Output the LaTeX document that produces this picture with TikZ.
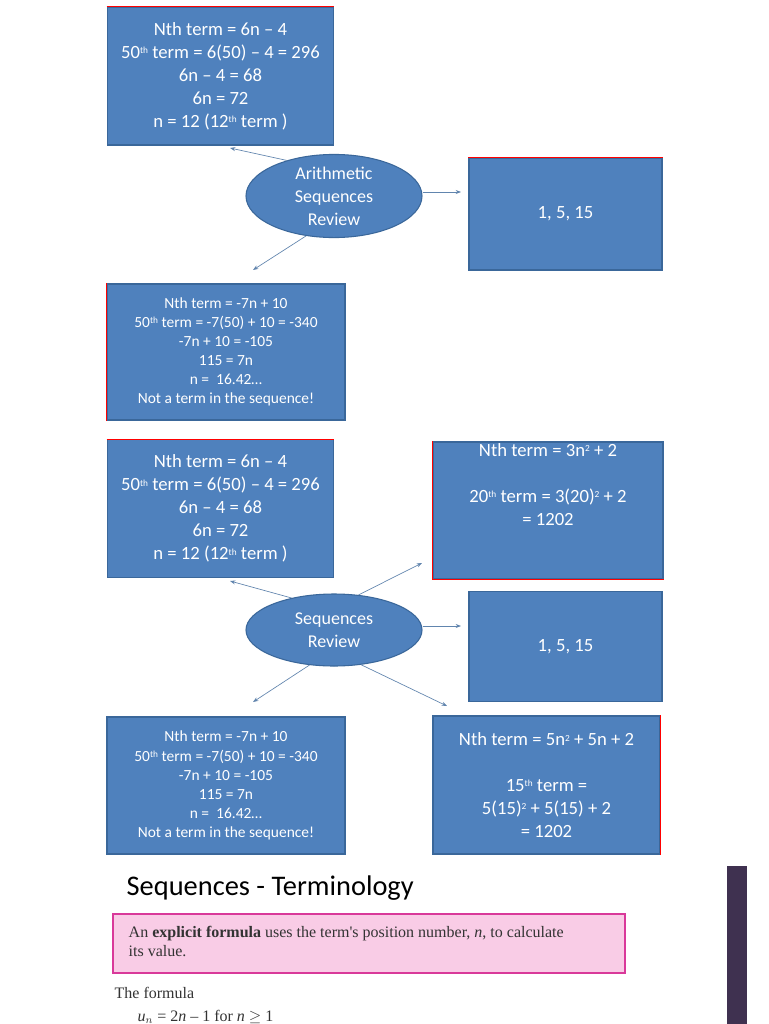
\documentclass[tikz,border=0pt]{standalone}
\usepackage{fontspec}
\setmainfont{Carlito}
\newfontfamily\serifx{Liberation Serif}
\usetikzlibrary{shapes.geometric,arrows.meta}
\definecolor{bfill}{HTML}{4F81BD}
\definecolor{bdraw}{HTML}{3A679A}
\definecolor{pinkf}{HTML}{F9CCE6}
\definecolor{pinkd}{HTML}{D9399A}
\definecolor{purp}{HTML}{3F3150}
\newcommand{\sth}[1]{\raisebox{0.5ex}{\fontsize{7}{7}\selectfont #1}}
\begin{document}
\begin{tikzpicture}[x=0.75pt,y=-0.75pt,
 box/.style={draw=bdraw,fill=bfill,line width=0.8pt,text=white,align=center,inner sep=0pt},
 big/.style={font=\fontsize{14}{17.3}\selectfont},
 small/.style={font=\fontsize{11.6}{14.3}\selectfont},
 ell/.style={ellipse,draw=bdraw,fill=bfill,line width=0.8pt,text=white,align=center,minimum width=132pt,minimum height=54pt,inner sep=0pt,font=\fontsize{13.5}{17.3}\selectfont},
 arr/.style={-{Stealth[length=4pt,width=3pt]},draw=bdraw!80!white,line width=0.5pt},
 red/.style={draw=red,line width=1.2pt}]
\useasboundingbox (0,0) rectangle (768,1024);
\fill[white] (0,0) rectangle (768,1024);
% Group 1
\node[box,big,minimum width=170pt,minimum height=103.5pt] (b1) at (220.5,76) {Nth term = 6n – 4\\50\sth{th} term = 6(50) – 4 = 296\\6n – 4 = 68\\6n = 72\\n = 12 (12\sth{th} term )};
\draw[red] (b1.north west)--(b1.north east);
\node[ell] (e1) at (334,196) {Arithmetic\\Sequences\\Review};
\node[box,big,minimum width=144.75pt,minimum height=84pt] (b2) at (565.5,214) {1, 5, 15};
\draw[red] (b2.north west)--(b2.north east);
\node[box,small,minimum width=178.5pt,minimum height=102pt] (b3) at (226,352) {Nth term = -7n + 10\\50\sth{th} term = -7(50) + 10 = -340\\-7n + 10 = -105\\115 = 7n\\n = \ 16.42\ldots\\Not a term in the sequence!};
\draw[red] (b3.north west)--(b3.south west);
\coordinate (a1) at (230,148);
\coordinate (a2) at (461,192);
\coordinate (a3) at (253,270);
\draw[arr] (e1.143)--(a1);
\draw[arr] (e1.east|-a2)--(a2);
\draw[arr] (e1.235)--(a3);
% Group 2
\node[box,big,minimum width=170pt,minimum height=103pt] (b4) at (220.5,508.5) {Nth term = 6n – 4\\50\sth{th} term = 6(50) – 4 = 296\\6n – 4 = 68\\6n = 72\\n = 12 (12\sth{th} term )};
\draw[red] (b4.north west)--(b4.north east);
\node[box,big,minimum width=172.5pt,minimum height=102.75pt] (b5) at (548,510.5) {Nth term = 3n\sth{2} + 2\\[17pt]20\sth{th} term = 3(20)\sth{2} + 2\\= 1202\\[22pt]};
\draw[red] (b5.north west)--(b5.south west);
\draw[red] (b5.south west)--(b5.south east);
\node[ell,minimum width=132pt] (e2) at (334,630) {Sequences\\Review};
\node[box,big,minimum width=144.75pt,minimum height=83pt] (b6) at (565.5,646.5) {1, 5, 15};
\node[box,small,minimum width=178.5pt,minimum height=102.75pt] (b7) at (226,785.5) {Nth term = -7n + 10\\50\sth{th} term = -7(50) + 10 = -340\\-7n + 10 = -105\\115 = 7n\\n = \ 16.42\ldots\\Not a term in the sequence!};
\node[box,big,minimum width=170.25pt,minimum height=103.5pt] (b8) at (546.5,785) {Nth term = 5n\sth{2} + 5n + 2\\[17pt]15\sth{th} term =\\5(15)\sth{2} + 5(15) + 2\\= 1202};
\draw[red] (b8.north east)--(b8.south east);
\coordinate (c1) at (230,581);
\coordinate (c2) at (422,563);
\coordinate (c3) at (461,626);
\coordinate (c4) at (253,702);
\coordinate (c5) at (447,706);
\draw[arr] (e2.143)--(c1);
\draw[arr] (e2.55)--(c2);
\draw[arr] (e2.east|-c3)--(c3);
\draw[arr] (e2.235)--(c4);
\draw[arr] (e2.-52)--(c5);
% Bottom slide
\node[anchor=west,font=\fontsize{21.3}{24}\selectfont] (t) at (122,888) {Sequences - Terminology};
\node[draw=pinkd,fill=pinkf,line width=1.5pt,minimum width=384pt,minimum height=44pt,anchor=north west,inner sep=0pt] (pb) at (112,913) {};
\node[anchor=north west,align=left,font=\serifx\fontsize{12}{14}\selectfont,text=black!80] (pt) at (124,922) {An \textbf{explicit formula} uses the term's position number, \textit{n}, to calculate\\its value.};
\node[anchor=west,font=\serifx\fontsize{12}{13}\selectfont,text=black!80] (tf) at (110,993) {The formula};
\node[anchor=west,font=\serifx\fontsize{12}{13}\selectfont,text=black!80] (fm) at (133,1017) {\textit{u}$_n$ = 2\textit{n} – 1 for \textit{n} $\geq$ 1};
\fill[purp] (727,866) rectangle (747,1024);
\end{tikzpicture}
\end{document}
